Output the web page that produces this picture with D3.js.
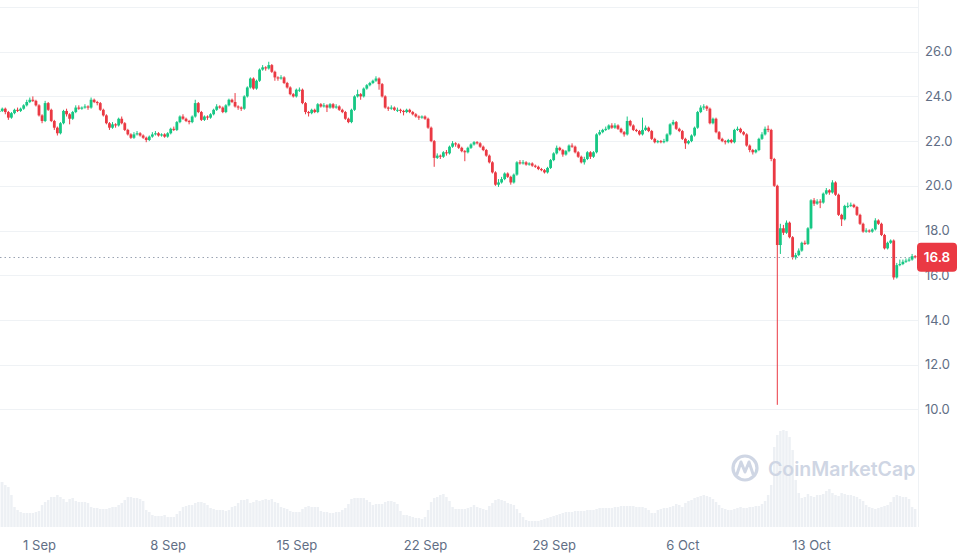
<!DOCTYPE html>
<html><head><meta charset="utf-8">
<script src="https://cdn.jsdelivr.net/npm/d3@7"></script>
<style>body{margin:0;background:#fff;} svg{display:block;font-family:Inter,"Noto Sans",sans-serif;}</style>
</head><body><svg id="c" width="967" height="559"></svg>
<script>
// ---- data (4-hour candles) ----
const startTime = Date.UTC(2025, 7, 29, 20);
const stepHours = 4;
const firstOpen = 23.3;
const close = [
23.35,23.45,23.3,23.05,23.25,23.4,23.35,23.45,23.6,23.75,
23.85,23.8,23.6,23.15,22.9,23.7,23.4,22.9,22.6,22.35,
22.8,23.35,23.2,23.0,23.3,23.5,23.45,23.5,23.55,23.5,
23.85,23.75,23.7,23.4,23.15,22.8,22.6,22.75,22.7,23.0,
22.8,22.5,22.3,22.15,22.3,22.35,22.25,22.15,22.05,22.2,
22.3,22.35,22.25,22.3,22.2,22.35,22.55,22.5,22.85,23.1,
23.0,22.9,22.85,23.1,23.7,23.3,22.95,23.1,23.05,23.2,
23.4,23.55,23.5,23.3,23.6,23.85,23.75,23.55,23.5,23.45,
24.0,24.4,24.8,24.35,24.7,25.2,25.3,25.25,25.4,25.1,
24.85,24.8,24.85,24.6,24.4,24.1,24.0,24.3,24.3,23.7,
23.3,23.25,23.4,23.3,23.65,23.55,23.6,23.5,23.65,23.5,
23.55,23.4,23.3,23.0,22.85,23.4,24.0,24.1,24.0,24.35,
24.5,24.6,24.7,24.8,24.55,24.0,23.5,23.45,23.5,23.4,
23.4,23.35,23.3,23.4,23.3,23.2,23.1,23.05,23.1,23.0,
22.6,22.0,21.25,21.35,21.3,21.5,21.45,21.75,21.9,21.85,
21.7,21.55,21.5,21.7,21.85,21.95,21.9,21.75,21.6,21.35,
21.05,20.6,20.05,20.15,20.3,20.55,20.4,20.15,20.5,21.05,
21.0,21.05,20.95,21.0,20.9,20.85,20.75,20.7,20.6,20.8,
21.15,21.45,21.7,21.6,21.4,21.55,21.8,21.75,21.5,21.3,
21.05,21.2,21.5,21.3,21.5,22.3,22.4,22.5,22.55,22.7,
22.6,22.7,22.55,22.4,22.3,22.9,22.7,22.5,22.45,22.3,
22.5,22.6,22.45,22.1,21.95,22.0,21.95,22.0,22.3,22.75,
22.85,22.55,22.45,22.1,21.9,22.0,22.25,22.6,23.3,23.5,
23.55,23.45,22.8,23.0,22.4,22.1,22.0,21.95,22.05,21.95,
22.5,22.55,22.4,22.3,21.8,21.6,21.5,21.6,22.1,22.3,
22.55,22.5,21.2,20.0,17.35,18.1,17.9,18.35,17.7,16.8,
16.9,17.1,17.45,17.4,18.1,19.35,19.2,19.3,19.25,19.65,
19.8,19.7,20.15,19.6,18.7,18.5,19.1,19.1,19.15,19.05,
18.7,18.3,17.95,18.0,17.95,18.05,18.45,18.3,17.8,17.2,
17.45,17.55,15.9,16.45,16.5,16.6,16.65,16.7,16.85,16.8];
const high = [
23.45,23.5,23.5,23.35,23.3,23.45,23.5,23.5,23.65,23.85,
23.95,24.0,23.85,23.65,23.2,23.8,23.75,23.45,22.95,22.65,
22.85,23.4,23.45,23.25,23.35,23.6,23.6,23.55,23.65,23.6,
23.95,23.9,23.8,23.75,23.45,23.2,22.85,22.85,22.8,23.05,
23.1,22.85,22.55,22.35,22.4,22.45,22.4,22.3,22.2,22.25,
22.4,22.45,22.4,22.35,22.35,22.4,22.6,22.65,22.9,23.15,
23.2,23.05,22.95,23.15,23.85,23.75,23.35,23.15,23.15,23.25,
23.45,23.65,23.6,23.55,23.65,23.9,23.9,24.15,23.6,23.55,
24.05,24.45,24.85,24.85,24.75,25.25,25.4,25.35,25.55,25.45,
25.15,24.9,24.95,24.9,24.65,24.45,24.15,24.35,24.4,24.35,
23.75,23.35,23.45,23.45,23.7,23.7,23.7,23.65,23.7,23.7,
23.65,23.6,23.45,23.35,23.05,23.45,24.05,24.3,24.15,24.4,
24.55,24.65,24.75,24.9,24.85,24.6,24.05,23.55,23.6,23.55,
23.5,23.45,23.4,23.45,23.45,23.35,23.25,23.15,23.15,23.15,
23.05,22.65,22.05,21.45,21.4,21.55,21.6,21.8,22.0,21.95,
21.9,21.75,21.6,21.75,21.9,22.0,22.0,21.95,21.8,21.65,
21.4,21.1,20.65,20.3,20.4,20.6,20.6,20.45,20.55,21.1,
21.15,21.15,21.1,21.05,21.05,20.95,20.9,20.8,20.75,20.85,
21.2,21.5,21.8,21.75,21.65,21.6,21.85,21.9,21.8,21.55,
21.35,21.3,21.55,21.55,21.55,22.35,22.5,22.55,22.65,22.75,
22.8,22.8,22.75,22.6,22.45,23.1,22.95,22.75,22.55,22.5,
23.05,22.7,22.65,22.5,22.15,22.05,22.05,22.1,22.35,22.8,
22.95,22.9,22.6,22.5,22.15,22.05,22.3,22.65,23.35,23.6,
23.65,23.6,23.5,23.05,23.05,22.45,22.15,22.05,22.1,22.1,
22.55,22.65,22.6,22.45,22.35,21.85,21.65,21.65,22.15,22.4,
22.65,22.7,22.55,21.25,20.05,18.3,18.25,18.45,18.4,17.75,
17.0,17.2,17.5,17.55,18.15,19.4,19.45,19.4,19.4,19.7,
19.9,19.85,20.25,20.2,19.65,18.75,19.15,19.25,19.25,19.2,
19.1,18.75,18.35,18.1,18.05,18.1,18.55,18.5,18.35,17.85,
17.5,17.6,17.6,16.55,16.7,16.7,16.75,16.8,16.95,16.9];
const low = [
23.25,23.3,23.2,22.95,23.0,23.2,23.3,23.3,23.4,23.55,
23.7,23.75,23.55,23.1,22.8,22.85,23.35,22.85,22.5,22.25,
22.3,22.75,23.1,22.75,22.95,23.25,23.4,23.4,23.45,23.4,
23.45,23.7,23.6,23.35,23.1,22.75,22.5,22.55,22.6,22.65,
22.75,22.45,22.25,22.1,22.1,22.25,22.2,22.1,21.95,22.0,
22.15,22.25,22.2,22.2,22.15,22.15,22.3,22.45,22.45,22.8,
22.95,22.85,22.75,22.8,23.05,23.25,22.9,22.9,22.95,23.0,
23.15,23.35,23.45,23.25,23.25,23.55,23.7,23.5,23.4,23.35,
23.4,23.95,24.35,24.3,24.3,24.65,25.15,25.15,25.2,25.05,
24.7,24.7,24.75,24.55,24.35,24.05,23.95,23.95,24.2,23.65,
23.2,23.1,23.2,23.25,23.25,23.5,23.5,23.3,23.45,23.45,
23.45,23.35,23.25,22.95,22.8,22.8,23.35,23.95,23.85,23.95,
24.3,24.45,24.55,24.65,24.3,23.95,23.45,23.35,23.4,23.35,
23.3,23.25,23.15,23.25,23.25,23.15,23.05,22.95,23.0,22.95,
22.55,21.95,20.85,21.2,21.2,21.25,21.35,21.4,21.7,21.75,
21.65,21.5,21.1,21.45,21.65,21.8,21.85,21.7,21.55,21.3,
21.0,20.55,20.0,19.95,20.1,20.25,20.35,20.05,20.1,20.45,
20.95,20.95,20.9,20.9,20.85,20.8,20.7,20.65,20.55,20.55,
20.75,21.1,21.4,21.55,21.3,21.35,21.5,21.7,21.45,21.25,
21.0,20.95,21.15,21.2,21.25,21.45,22.25,22.35,22.45,22.5,
22.55,22.55,22.5,22.35,22.2,22.25,22.65,22.45,22.4,22.25,
22.25,22.45,22.4,22.05,21.9,21.9,21.9,21.9,21.95,22.25,
22.7,22.5,22.4,22.05,21.65,21.85,21.95,22.2,22.55,23.25,
23.4,23.35,22.75,22.75,22.35,22.05,21.95,21.85,21.9,21.9,
21.9,22.45,22.35,22.25,21.75,21.5,21.4,21.45,21.55,22.05,
22.25,22.4,21.1,19.95,10.2,16.95,17.8,17.85,17.65,16.7,
16.7,16.85,17.05,17.35,17.35,18.05,19.1,19.15,19.0,19.2,
19.6,19.6,19.65,19.55,18.65,18.2,18.45,19.0,19.05,19.0,
18.65,18.25,17.9,17.9,17.9,17.9,18.0,18.25,17.75,17.15,
17.15,17.4,15.8,15.85,16.4,16.45,16.55,16.6,16.65,16.75];
const volume = [
45,45,42,40,32,20,17,15,14,14,
14,14,15,16,22,25,27,30,30,32,
30,28,25,28,29,26,25,25,25,24,
20,19,19,18,18,18,19,20,20,22,
24,27,30,30,29,29,28,26,17,15,
12,11,11,11,12,10,10,10,13,16,
20,21,22,22,24,25,25,24,22,19,
18,17,17,17,16,17,20,21,24,27,
27,28,24,25,27,26,27,28,27,28,
25,24,20,19,18,16,15,15,15,18,
20,21,20,20,20,16,15,15,14,14,
15,15,17,19,23,28,29,29,29,29,
27,25,22,23,23,23,25,26,26,25,
23,16,12,12,11,10,9,9,8,10,
17,25,29,30,32,33,30,26,20,18,
18,18,18,19,20,22,20,19,18,17,
21,24,27,28,27,26,24,23,22,18,
14,10,7,6,6,6,6,7,8,9,
10,11,12,13,14,15,15,15,16,16,
16,16,17,17,17,18,19,19,19,19,
19,20,20,21,21,21,21,21,20,20,
20,19,17,14,14,17,18,19,19,20,
21,23,22,20,24,26,27,29,30,31,
32,31,30,28,25,22,19,18,17,17,
18,19,20,19,19,20,20,21,21,23,
26,32,42,80,92,96,97,96,90,77,
47,34,29,30,33,31,30,32,32,33,
36,38,34,32,31,34,33,32,32,31,
30,28,26,22,20,19,18,19,20,21,
22,25,30,32,31,30,30,28,20,18];
const priceTicks = [10,12,14,16,18,20,22,24,26];
const gridTicks = [10,12,14,16,18,20,22,24,26,28];
const dateTicks = ["2025-09-01","2025-09-08","2025-09-15","2025-09-22","2025-09-29","2025-10-06","2025-10-13"];
const lastPrice = 16.8;

// ---- build ----
const candles = close.map((c, i) => ({
  t: new Date(startTime + i * stepHours * 3600e3),
  o: i === 0 ? firstOpen : close[i - 1],
  c, h: high[i], l: low[i], v: volume[i]
}));

const svg = d3.select("#c");
const plotR = 918, volBase = 527;
const x = d3.scaleUtc()
  .domain([new Date("2025-09-01T00:00:00Z"), new Date("2025-10-13T00:00:00Z")])
  .range([39, 811]);
const y = d3.scaleLinear().domain([10, 26]).range([409.3, 51.7]);
const yv = d3.scaleLinear().domain([0, 100]).range([volBase, 427]);
const step = x(new Date(startTime + stepHours * 3600e3)) - x(new Date(startTime));
const GREEN = "#16c784", RED = "#ea3943";

svg.append("defs").append("clipPath").attr("id", "clip")
  .append("rect").attr("x", 0).attr("y", 0).attr("width", plotR).attr("height", volBase);

// grid
svg.append("g").selectAll("line").data(gridTicks).join("line")
  .attr("x1", 0).attr("x2", plotR)
  .attr("y1", d => Math.round(y(d)) + 0.5).attr("y2", d => Math.round(y(d)) + 0.5)
  .attr("stroke", "#eff2f5").attr("stroke-width", 1);
svg.append("line").attr("x1", plotR + 0.5).attr("x2", plotR + 0.5).attr("y1", 0).attr("y2", volBase)
  .attr("stroke", "#eff2f5");

const g = svg.append("g").attr("clip-path", "url(#clip)");

// volume
g.append("g").selectAll("rect").data(candles).join("rect")
  .attr("x", d => x(d.t) - step / 2 + 0.3)
  .attr("width", step - 0.6)
  .attr("y", d => yv(d.v))
  .attr("height", d => volBase - yv(d.v))
  .attr("fill", "#edf0f4");

// watermark
const wm = svg.append("g").attr("fill", "none").attr("stroke", "#cfd6e4");
wm.append("circle").attr("cx", 745).attr("cy", 468).attr("r", 12).attr("stroke-width", 3.2);
wm.append("path").attr("d", "M737,474 L741,462 L745,472 L749,462 L753,474").attr("stroke-width", 3).attr("stroke-linejoin", "round").attr("stroke-linecap", "round");
svg.append("text").attr("x", 768).attr("y", 476).text("CoinMarketCap")
  .attr("fill", "#cfd6e4").attr("font-size", 19.5).attr("font-weight", 600);

// last price dotted line
svg.append("line").attr("x1", 0).attr("x2", plotR).attr("y1", Math.round(y(lastPrice)) + 0.5).attr("y2", Math.round(y(lastPrice)) + 0.5)
  .attr("stroke", "#9aa3b2").attr("stroke-width", 1).attr("stroke-dasharray", "1.5,3");

// candles
const cg = g.append("g");
const col = d => d.c >= d.o ? GREEN : RED;
cg.selectAll("line").data(candles).join("line")
  .attr("x1", d => x(d.t)).attr("x2", d => x(d.t))
  .attr("y1", d => y(d.h)).attr("y2", d => y(d.l))
  .attr("stroke", col).attr("stroke-width", 1);
cg.selectAll("rect").data(candles).join("rect")
  .attr("x", d => x(d.t) - 1.4).attr("width", 2.8)
  .attr("y", d => y(Math.max(d.o, d.c)))
  .attr("height", d => Math.max(1, Math.abs(y(d.o) - y(d.c))))
  .attr("fill", col);

// y axis
const ya = svg.append("g").attr("transform", `translate(${plotR},0)`)
  .call(d3.axisRight(y).tickValues(priceTicks).tickFormat(d3.format(".1f")).tickSize(0).tickPadding(7));
ya.select(".domain").remove();
ya.selectAll("text").attr("fill", "#616e85").attr("font-size", 13).attr("font-family", "Inter, sans-serif");

// x axis
const xa = svg.append("g").attr("transform", `translate(0,${volBase})`)
  .call(d3.axisBottom(x).tickValues(dateTicks.map(s => new Date(s + "T00:00:00Z")))
    .tickFormat(d3.utcFormat("%-d %b")).tickSize(0).tickPadding(14));
xa.select(".domain").remove();
xa.selectAll("text").attr("fill", "#616e85").attr("font-size", 13).attr("font-family", "Inter, sans-serif");

// last price label
const lastCol = candles[candles.length - 1].c >= candles[candles.length - 1].o ? GREEN : RED;
const ly = y(lastPrice);
svg.append("rect").attr("x", plotR - 1).attr("y", ly - 14.5).attr("width", 40).attr("height", 29).attr("rx", 4)
  .attr("fill", lastCol);
svg.append("text").attr("x", plotR + 19).attr("y", ly).attr("dy", "0.36em").attr("text-anchor", "middle")
  .attr("fill", "#fff").attr("font-size", 13.5).attr("font-weight", 600).text(d3.format(".1f")(lastPrice));
</script></body></html>
